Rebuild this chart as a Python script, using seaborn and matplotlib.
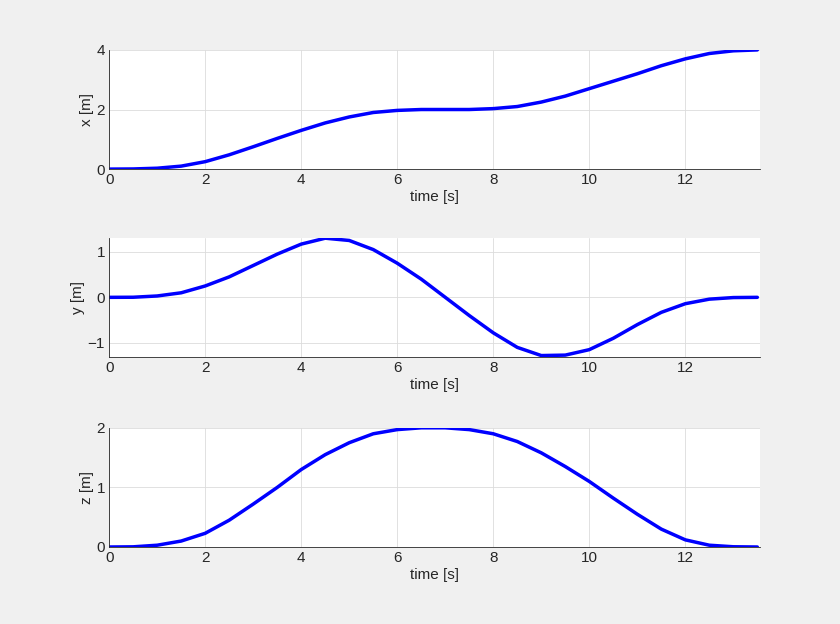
import matplotlib
matplotlib.use("Agg")
import matplotlib.pyplot as plt
import seaborn as sns
import pandas as pd

t = [i * 0.5 for i in range(28)]
x_vals = [0, 0.005, 0.03, 0.1, 0.25, 0.48, 0.75, 1.03, 1.3, 1.55, 1.75, 1.9, 1.97, 2.0,
          2.0, 2.0, 2.03, 2.1, 2.25, 2.45, 2.7, 2.95, 3.2, 3.47, 3.7, 3.88, 3.97, 4.0]
y_vals = [0, 0.002, 0.03, 0.1, 0.25, 0.45, 0.7, 0.95, 1.17, 1.3, 1.25, 1.05, 0.75, 0.4,
          0.0, -0.4, -0.78, -1.1, -1.28, -1.27, -1.15, -0.9, -0.6, -0.33, -0.14, -0.04, -0.005, 0]
z_vals = [0, 0.003, 0.03, 0.1, 0.23, 0.45, 0.72, 1.0, 1.3, 1.55, 1.75, 1.9, 1.97, 2.0,
          2.0, 1.97, 1.9, 1.77, 1.58, 1.35, 1.1, 0.82, 0.55, 0.3, 0.12, 0.03, 0.004, 0]

sns.set_style("white")
plt.rcParams['font.family'] = ['Liberation Sans', 'DejaVu Sans']
plt.rcParams['font.size'] = 11

fig = plt.figure(figsize=(8.4, 6.24), dpi=100, facecolor='#f0f0f0')
specs = [(x_vals, 'x [m]', (0, 4), [0, 2, 4], 0.729),
         (y_vals, 'y [m]', (-1.31, 1.31), [-1, 0, 1], 0.428),
         (z_vals, 'z [m]', (0, 2), [0, 1, 2], 0.1234)]
for vals, lab, ylim, yt, b in specs:
    ax = fig.add_axes([0.13, b, 0.775, 0.191])
    df = pd.DataFrame({'t': t, 'v': vals})
    sns.lineplot(data=df, x='t', y='v', ax=ax, color='#0000ff', linewidth=2.5)
    ax.set_xlim(0, 13.56)
    ax.set_ylim(*ylim)
    ax.set_xticks([0, 2, 4, 6, 8, 10, 12])
    ax.set_yticks(yt)
    ax.set_xlabel('time [s]', color='#262626', labelpad=2)
    ax.set_ylabel(lab, color='#262626', labelpad=2)
    ax.grid(True, color='#dcdcdc', linewidth=0.6)
    ax.set_axisbelow(True)
    for s in ['top', 'right']:
        ax.spines[s].set_visible(False)
    for s in ['left', 'bottom']:
        ax.spines[s].set_color('#262626')
        ax.spines[s].set_linewidth(0.6)
    ax.tick_params(direction='in', length=3, colors='#262626', labelsize=11, pad=3)
fig.savefig('out.png', dpi=100, facecolor=fig.get_facecolor())
